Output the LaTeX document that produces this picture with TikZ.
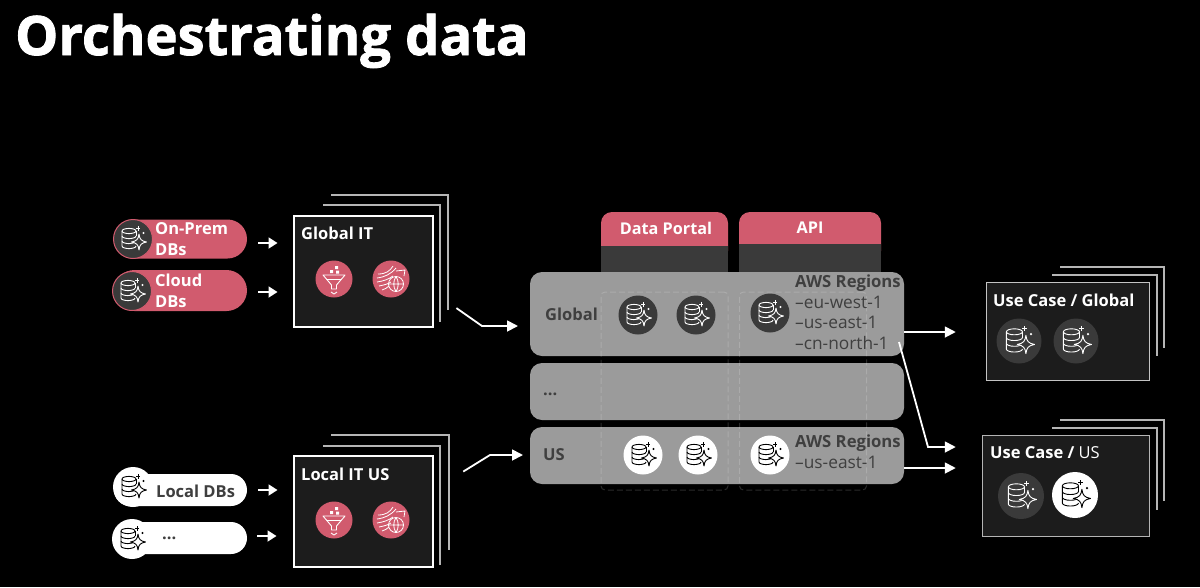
\documentclass[tikz,border=0pt]{standalone}
\usepackage{fontspec}
\setmainfont{Open Sans}[BoldFont={Open Sans Bold}]
\newfontfamily\titlefont{Open Sans Bold}[FakeBold=1.5]
\usetikzlibrary{arrows.meta,shapes.misc}
\definecolor{dbpink}{HTML}{D15B6E}
\definecolor{panelbg}{HTML}{1C1C1C}
\definecolor{dbdark}{HTML}{3A3A3A}
\definecolor{bandgray}{HTML}{9B9B9B}
\definecolor{bandtext}{HTML}{3F3F3F}
\definecolor{stackline}{HTML}{B5B5B5}
\tikzset{
  pill/.style={rounded rectangle,minimum width=133pt,minimum height=#1,inner sep=0pt,outer sep=0pt},
  pinkpill/.style={pill=39pt,fill=dbpink},
  whitepill/.style={pill=32pt,fill=white},
  pilltext/.style={anchor=west,inner sep=0pt,align=left,text=#1,
    font=\fontsize{16.5}{20.5}\selectfont\bfseries},
  itbox/.style={rectangle,draw=white,fill=panelbg,line width=2pt,minimum width=139pt,minimum height=111pt,
    inner sep=0pt,outer sep=1pt},
  usebox/.style={rectangle,draw=#1,fill=panelbg,line width=1.5pt,inner sep=0pt,outer sep=0.75pt},
  stack/.style={draw=stackline,line width=1.6pt},
  boxtitle/.style={anchor=west,inner sep=0pt,text=white,font=\fontsize{16.5}{18}\selectfont\bfseries},
  flowarrow/.style={-{Triangle[length=11pt,width=11pt]},draw=white,line width=1.8pt},
  smallarrow/.style={-{Triangle[length=9pt,width=11pt]},draw=white,line width=1.8pt},
  roundicon/.style={circle,fill=#1,minimum size=39pt,inner sep=0pt,outer sep=0pt},
  roundicon/.default={dbdark},
  tabhead/.style={rectangle,rounded corners=11pt,fill=dbpink,inner sep=0pt,outer sep=0pt},
  tabbody/.style={rectangle,fill=dbdark,inner sep=0pt,outer sep=0pt},
  tabtitle/.style={inner sep=0pt,text=white,font=\fontsize{16.2}{18}\selectfont\bfseries},
  band/.style={rectangle,rounded corners=12pt,fill=bandgray,minimum width=374pt,inner sep=0pt,outer sep=0pt},
  bandlabel/.style={anchor=west,inner sep=0pt,text=bandtext,font=\fontsize{16.5}{18}\selectfont\bfseries},
  regions/.style={anchor=north west,inner sep=0pt,align=left,text=bandtext,font=\fontsize{17.3}{20.5}\selectfont},
  regionhead/.style={font=\fontsize{16.7}{20.5}\selectfont\bfseries},
  dashbox/.style={rectangle,rounded corners=4pt,draw=white,draw opacity=0.16,line width=1pt,
    dash pattern=on 6pt off 3pt,inner sep=0pt,outer sep=0pt},
  pics/dbicon/.style={code={
    \begin{scope}[draw=#1,line width=0.9pt,line join=round]
      \draw (-4,-8) ellipse[x radius=7,y radius=2.6];
      \draw (-11,-8) -- (-11,7) arc[start angle=180,end angle=0,x radius=7,y radius=2.6];
      \draw (-11,-3) arc[start angle=180,end angle=0,x radius=7,y radius=2.6];
      \draw (-11,2) arc[start angle=180,end angle=50,x radius=7,y radius=2.6];
      \draw (3,-8) -- (3,-3);
      \draw (6,-5) .. controls (6.6,0) and (8,2) .. (13.5,3)
        .. controls (8,4) and (6.6,6) .. (6,11)
        .. controls (5.4,6) and (4,4) .. (-1.5,3)
        .. controls (4,2) and (5.4,0) .. (6,-5) -- cycle;
      \draw (5,-13) -- (5,-8.5) (2.8,-10.8) -- (7.2,-10.8);
      \fill[#1] (10.5,-6) circle (1.1pt);
    \end{scope}}},
  pics/funnelicon/.style={code={
    \begin{scope}[draw=white,line width=0.9pt,line join=round]
      \draw (-11,-4) -- (11,-4) -- (2.5,6) -- (2.5,10) -- (-2.5,10) -- (-2.5,6) -- cycle;
      \draw (-7,0) -- (7,0);
      \draw (-3,13) -- (0,15) -- (3,13);
      \fill[white] (-4,-9) rectangle (-1,-6) (1,-13) rectangle (4,-10) (2,-8.5) rectangle (5,-5.5);
    \end{scope}}},
  pics/streamicon/.style={code={
    \begin{scope}[draw=white,line width=0.8pt]
      \draw (-13,-5) .. controls (-5,-5) and (-1,-8) .. (2,-13);
      \draw (-14,-1) .. controls (-6,-2) and (0,-5) .. (5,-11);
      \draw (-14,3) .. controls (-7,2) and (-2,0) .. (2,-3);
      \draw (-12,7) .. controls (-7,6) and (-3,5) .. (0,3);
      \draw (-9,11) .. controls (-6,10) and (-4,9) .. (-2,7);
      \draw (5,-8) -- (14,-9) -- (13,-3);
      \draw (5,5) circle (7.5pt);
      \draw (-2.5,5) -- (12.5,5) (5,-2.5) .. controls (2,2) and (2,8) .. (5,12.5)
        (5,-2.5) .. controls (8,2) and (8,8) .. (5,12.5);
    \end{scope}}},
}
\begin{document}
\begin{tikzpicture}[x=1pt,y=-1pt]
  \useasboundingbox[fill=black] (0,0) rectangle (1200,587);
  \node[anchor=base west,inner sep=0pt,text=white,font=\fontsize{54.3}{60}\selectfont\titlefont] (title) at (15,55) {Orchestrating data};
  % sources
  \node[pinkpill] (onprem) at (180.5,239) {};
  \node[roundicon,draw=dbpink,line width=1pt] (onpremdb) at (133,239) {};
  \pic at (onpremdb) {dbicon=white};
  \node[pilltext=white] (onpremlbl) at (155,239) {On-Prem\\DBs};
  \node[pinkpill,minimum height=41pt] (cloud) at (180.5,290.5) {};
  \node[roundicon,draw=dbpink,line width=1pt] (clouddb) at (132,291) {};
  \pic at (clouddb) {dbicon=white};
  \node[pilltext=white] (cloudlbl) at (155,291) {Cloud\\DBs};
  \node[whitepill] (local) at (180.5,490) {};
  \node[roundicon=white,minimum size=40pt] (localdb) at (133,487) {};
  \pic at (localdb) {dbicon=black};
  \node[pilltext=bandtext] (locallbl) at (156,491) {Local DBs};
  \node[whitepill] (other) at (180.5,538) {};
  \node[roundicon=white,minimum size=40pt] (otherdb) at (132,539) {};
  \pic at (otherdb) {dbicon=black};
  \node[pilltext=bandtext] (otherlbl) at (162,538) {...};
  % IT stacks
  \draw[stack] (331,195) -| (448,310);
  \draw[stack] (323,205) -| (440,322);
  \node[itbox] (globalit) at (363,271) {};
  \node[boxtitle] (globalitlbl) at (301,233) {Global IT};
  \node[roundicon=dbpink,minimum size=37pt] (gfunnel) at (334,279) {};
  \pic at (gfunnel) {funnelicon};
  \node[roundicon=dbpink,minimum size=37pt] (gstream) at (391,279) {};
  \pic at (gstream) {streamicon};
  \draw[stack] (331,435) -| (449,550);
  \draw[stack] (323,446) -| (440,565);
  \node[itbox] (localit) at (363,511) {};
  \node[boxtitle] (localitlbl) at (301,474) {Local IT US};
  \node[roundicon=dbpink,minimum size=37pt] (lfunnel) at (334,520) {};
  \pic at (lfunnel) {funnelicon};
  \node[roundicon=dbpink,minimum size=37pt] (lstream) at (391,520) {};
  \pic at (lstream) {streamicon};
  \draw[smallarrow,shorten <=11pt,shorten >=15pt] (onprem.east |- 0,243) -- (globalit.west |- 0,243);
  \draw[smallarrow,shorten <=11pt,shorten >=15pt] (cloud.east |- 0,292) -- (globalit.west |- 0,292);
  \draw[smallarrow,shorten <=11pt,shorten >=15pt] (local.east |- 0,490) -- (localit.west |- 0,490);
  \draw[smallarrow,shorten <=10pt,shorten >=16pt] (other.east |- 0,536) -- (localit.west |- 0,536);
  % tabs
  \node[tabhead,minimum width=127pt,minimum height=50pt] (portal) at (664.5,237) {};
  \node[tabbody,minimum width=127pt,minimum height=26pt] (portalbody) at (664.5,259) {};
  \node[tabtitle] (portallbl) at (666,228) {Data Portal};
  \node[tabhead,minimum width=142pt,minimum height=50pt] (api) at (810,237) {};
  \node[tabbody,minimum width=142pt,minimum height=28pt] (apibody) at (810,258) {};
  \node[tabtitle] (apilbl) at (810,228) {API};
  % bands
  \node[band,minimum height=84pt] (bglobal) at (717,314) {};
  \node[band,minimum height=57pt] (bother) at (717,391.5) {};
  \node[band,minimum height=57pt] (bus) at (717,455.5) {};
  \node[dashbox,minimum width=127pt,minimum height=198pt] (portaldash) at (664.5,391) {};
  \node[dashbox,minimum width=127pt,minimum height=198pt] (apidash) at (803,391) {};
  \node[bandlabel] (globallbl) at (545,314) {Global};
  \node[bandlabel] (otherband) at (543,394) {...};
  \node[bandlabel] (uslbl) at (543,455) {US};
  \node[roundicon] (g1) at (638,315) {};
  \pic at (g1) {dbicon=white};
  \node[roundicon] (g2) at (696,315) {};
  \pic at (g2) {dbicon=white};
  \node[roundicon] (g3) at (770,313) {};
  \pic at (g3) {dbicon=white};
  \node[roundicon=white] (u1) at (643,455) {};
  \pic at (u1) {dbicon=black};
  \node[roundicon=white] (u2) at (698,455) {};
  \pic at (u2) {dbicon=black};
  \node[roundicon=white] (u3) at (770,455) {};
  \pic at (u3) {dbicon=black};
  \node[regions] (gregions) at (795,275) {{\fontsize{16.7}{20.5}\selectfont\bfseries AWS Regions}\\--eu-west-1\\--us-east-1\\--cn-north-1};
  \node[regions] (uregions) at (795,435) {{\fontsize{16.7}{20.5}\selectfont\bfseries AWS Regions}\\--us-east-1};
  % use cases
  \draw[stack] (1060,267) -| (1164,348);
  \draw[stack] (1052,275) -| (1157,356);
  \node[usebox=stackline!80,minimum width=163pt,minimum height=98pt] (ucglobal) at (1068,331.5) {};
  \node[boxtitle] (ucglobalbl) at (993,300) {Use Case / Global};
  \node[roundicon,minimum size=45pt] (c1) at (1019,341) {};
  \pic[scale=1.15] at (c1) {dbicon=white};
  \node[roundicon,minimum size=45pt] (c2) at (1076,341) {};
  \pic[scale=1.15] at (c2) {dbicon=white};
  \draw[stack] (1060,420) -| (1164,501);
  \draw[stack] (1052,428) -| (1157,510);
  \node[usebox=stackline,minimum width=167pt,minimum height=101pt] (ucus) at (1066,486) {};
  \node[boxtitle] (ucuslbl) at (990,453) {Use Case / \mdseries US};
  \node[roundicon,minimum size=46pt] (c3) at (1021,496) {};
  \pic[scale=1.15] at (c3) {dbicon=white};
  \node[roundicon=white,minimum size=46pt] (c4) at (1075,495) {};
  \pic[scale=1.15] at (c4) {dbicon=black};
  % flows
  \coordinate (gbend) at (482,326);
  \coordinate (ubend) at (490,455);
  \coordinate (crossbend) at (928,447);
  \coordinate (crossstart) at (899,342);
  \draw[flowarrow,shorten <=28pt,shorten >=12pt] (globalit.east |- 0,292) -- (gbend) -- (bglobal.west |- gbend);
  \draw[flowarrow,shorten <=35pt,shorten >=7pt] (localit.east |- 0,490) -- (ubend) -- (bus.west |- ubend);
  \draw[flowarrow,shorten >=30pt] (bglobal.east |- 0,332) -- (ucglobal.west |- 0,332);
  \draw[flowarrow,shorten >=26pt] (crossstart) -- (crossbend) -- (ucus.west |- crossbend);
  \draw[flowarrow,shorten >=26pt] (bus.east |- 0,468) -- (ucus.west |- 0,468);
\end{tikzpicture}
\end{document}
